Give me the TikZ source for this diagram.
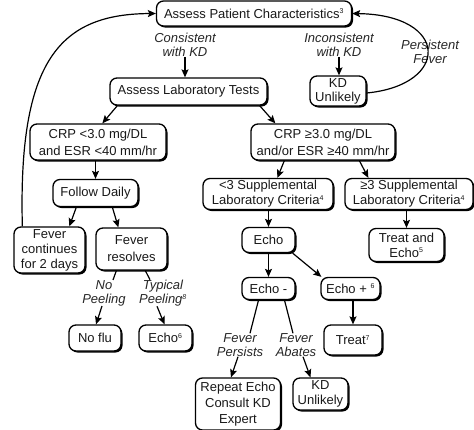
\documentclass[tikz,border=0pt]{standalone}
\usepackage{fontspec}
\setmainfont{Liberation Sans}
\usetikzlibrary{arrows.meta,shadows}
\newcommand\sups[1]{\textsuperscript{\fontsize{7}{7}\selectfont #1}}
\begin{document}
\begin{tikzpicture}[x=1pt,y=-1pt,
  box/.style={draw=black, line width=1.3pt, rounded corners=7pt, fill=white, align=center, inner sep=0pt,
    font=\fontsize{13}{15}\selectfont, text=black!90,
    drop shadow={shadow xshift=1.5pt, shadow yshift=-1.5pt, fill=black, opacity=1}},
  lbl/.style={align=center, inner sep=0pt, font=\fontsize{13}{14}\selectfont\itshape, text=black!85},
  arr/.style={line width=1.2pt, -{Stealth[length=8pt,width=7pt,inset=1.5pt]}},
  ln/.style={line width=1.2pt}]
\useasboundingbox (0,0) rectangle (474,429);
% nodes
\node[box, minimum width=195, minimum height=25] (pat) at (254,13.5) {Assess Patient Characteristics\sups{3}};
\node[lbl] (cons) at (185,45) {Consistent\\with KD};
\node[lbl] (incons) at (339,45) {Inconsistent\\with KD};
\node[box, minimum width=56, minimum height=30, font=\fontsize{13}{14}\selectfont] (kdu1) at (338,91) {KD\\Unlikely};
\node[box, minimum width=157, minimum height=27] (lab) at (188.5,91.5) {Assess Laboratory Tests};
\node[box, minimum width=136, minimum height=36, font=\fontsize{13}{17}\selectfont] (crpL) at (98,142) {CRP <3.0 mg/DL\\and ESR <40 mm/hr};
\node[box, minimum width=144, minimum height=36, font=\fontsize{13}{17}\selectfont] (crpR) at (323,142) {CRP ≥3.0 mg/DL\\and/or ESR ≥40 mm/hr};
\node[box, minimum width=85, minimum height=27] (follow) at (95.5,193) {Follow Daily};
\node[box, minimum width=130, minimum height=31] (supL) at (268,194) {<3 Supplemental\\Laboratory Criteria\sups{4}};
\node[box, minimum width=128, minimum height=31] (supR) at (409,194) {≥3 Supplemental\\Laboratory Criteria\sups{4}};
\node[box, minimum width=71, minimum height=46] (fcont) at (49.5,250) {Fever\\continues\\for 2 days};
\node[box, minimum width=71, minimum height=42, font=\fontsize{13}{17}\selectfont] (fres) at (131.5,249) {Fever\\resolves};
\node[box, minimum width=53, minimum height=25] (echo) at (268.5,240) {Echo};
\node[box, minimum width=75, minimum height=33] (treatecho) at (406.5,245) {Treat and\\Echo\sups{5}};
\node[box, minimum width=53, minimum height=22] (echom) at (268.5,288.5) {Echo -};
\node[box, minimum width=59, minimum height=22] (echop) at (350.5,288.5) {Echo + \sups{6}};
\node[lbl] (nopeel) at (104,293) {No\\Peeling};
\node[lbl] (typpeel) at (163,293) {Typical\\Peeling\sups{8}};
\node[box, minimum width=52, minimum height=26] (noflu) at (95,338) {No flu};
\node[box, minimum width=53, minimum height=26] (echo6) at (165.5,338) {Echo\sups{6}};
\node[box, minimum width=58, minimum height=30] (treat) at (353,340) {Treat\sups{7}};
\node[lbl] (fpers) at (240,345) {Fever\\Persists};
\node[lbl] (fabat) at (296,345) {Fever\\Abates};
\node[box, minimum width=85, minimum height=52, font=\fontsize{13}{16}\selectfont] (repeat) at (238,404) {Repeat Echo\\Consult KD\\Expert};
\node[box, minimum width=55, minimum height=32, font=\fontsize{13}{15}\selectfont] (kdu2) at (320.5,394) {KD\\Unlikely};
\node[lbl] (pers) at (430,52) {Persistent\\Fever};
% connectors
\draw[arr] (cons.south) -- (cons.south |- lab.north);
\draw[arr] (incons.south) -- (incons.south |- kdu1.north);
\draw[arr] ([xshift=8]lab.south west) -- ([xshift=73]crpL.north west);
\draw[arr] ([xshift=-8]lab.south east) -- ([xshift=25]crpR.north west);
\draw[arr] (crpL.south -| follow.north) -- (follow.north);
\draw[arr] ([xshift=34]crpR.south west) -- ([xshift=75]supL.north west);
\draw[arr] ([xshift=109]crpR.south west) -- ([xshift=24]supR.north west);
\draw[arr] ([xshift=24]follow.south west) -- ([xshift=56]fcont.north west);
\draw[arr] ([xshift=60]follow.south west) -- ([xshift=23]fres.north west);
\draw[ln] ([xshift=21]fres.south west) -- ([xshift=9]nopeel.north);
\draw[arr] ([xshift=-2]nopeel.south) -- ([xshift=1]noflu.north);
\draw[ln] ([xshift=50]fres.south west) -- ([xshift=-13]typpeel.north);
\draw[arr] ([xshift=-6]typpeel.south) -- ([xshift=-1]echo6.north);
\draw[arr] (supL.south -| echo.north) -- (echo.north);
\draw[arr] (supR.south -| treatecho.north) -- (treatecho.north);
\draw[arr] (echo.south) -- (echom.north);
\draw[arr] ([xshift=-3]echo.south east) -- ([xshift=1]echop.north west);
\draw[arr] (echop.south -| treat.north) -- (treat.north);
\draw[ln] ([xshift=-10]echom.south) -- ([xshift=10]fpers.north);
\draw[arr] ([xshift=-2]fpers.south) -- ([xshift=-7]repeat.north);
\draw[ln] ([xshift=16]echom.south) -- ([xshift=-3]fabat.north);
\draw[arr] ([xshift=7]fabat.south) -- ([xshift=-10]kdu2.north);
\draw[arr] ([xshift=9]fcont.north west) .. controls (18,60) and (60,14) .. (pat.west);
\draw[arr] ([yshift=-2]kdu1.east) .. controls (450,85) and (450,15) .. (pat.east);
\end{tikzpicture}
\end{document}
